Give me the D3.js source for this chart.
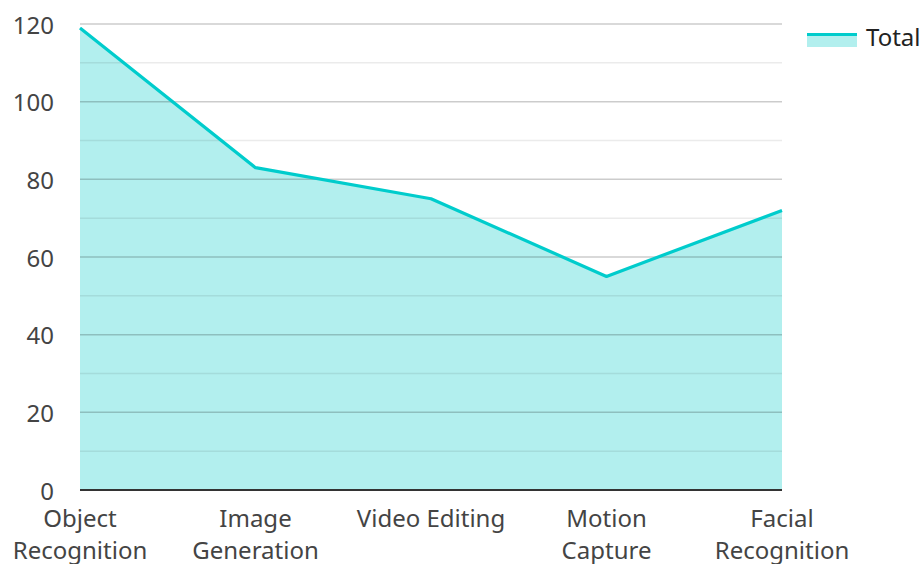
<!DOCTYPE html>
<html>
<head>
<meta charset="utf-8">
<script src="https://cdn.jsdelivr.net/npm/d3@7"></script>
<style>
  html,body{margin:0;padding:0;background:#fff;}
  svg text{font-family:"Noto Sans",sans-serif;fill:#444;}
</style>
</head>
<body>
<svg id="chart" width="924" height="564"></svg>
<script>
'use strict';
// values
const categories=[['Object','Recognition'],['Image','Generation'],['Video Editing'],['Motion','Capture'],['Facial','Recognition']];
const totals=[119,83,75,55,72];
const yTicks=[0,20,40,60,80,100,120];
const yMinor=[10,30,50,70,90,110];

const W=924,H=564, m={top:24,right:142,bottom:74,left:80};
const w=W-m.left-m.right, h=H-m.top-m.bottom;
const LINE='#00cccc', FILL='#b2efee';

const svg=d3.select('#chart');
const g=svg.append('g').attr('transform',`translate(${m.left},${m.top})`);

const keys=categories.map(c=>c.join(' '));
const x=d3.scalePoint().domain(keys).range([0,w]).padding(0);
const y=d3.scaleLinear().domain([0,120]).range([h,0]);

// area + line
const pts=totals.map((v,i)=>({k:keys[i],v}));
g.append('path').datum(pts)
  .attr('fill',FILL)
  .attr('d',d3.area().x(d=>x(d.k)).y0(y(0)).y1(d=>y(d.v)));

// grid lines over the fill (translucent so they darken on the area)
g.selectAll('.minor').data(yMinor).join('line').attr('class','minor')
  .attr('x1',0).attr('x2',w).attr('y1',d=>y(d)).attr('y2',d=>y(d))
  .attr('stroke','rgba(0,0,0,0.08)').attr('stroke-width',1.5);
g.selectAll('.major').data(yTicks.filter(t=>t>0)).join('line').attr('class','major')
  .attr('x1',0).attr('x2',w).attr('y1',d=>y(d)).attr('y2',d=>y(d))
  .attr('stroke','rgba(0,0,0,0.2)').attr('stroke-width',1.5);

g.append('path').datum(pts)
  .attr('fill','none').attr('stroke',LINE).attr('stroke-width',3.2).attr('stroke-linejoin','round')
  .attr('d',d3.line().x(d=>x(d.k)).y(d=>y(d.v)));

// baseline
g.append('line').attr('x1',0).attr('x2',w).attr('y1',y(0)).attr('y2',y(0))
  .attr('stroke','#333').attr('stroke-width',2);

// y labels
g.selectAll('.ylab').data(yTicks).join('text').attr('class','ylab')
  .attr('x',-26).attr('y',d=>y(d)).attr('text-anchor','end')
  .attr('dominant-baseline','central').style('font-size','24px').text(d=>d);

// x labels (wrapped)
const xl=g.selectAll('.xlab').data(categories).join('text').attr('class','xlab')
  .attr('text-anchor','middle').style('font-size','24px')
  .attr('transform',(d,i)=>`translate(${x(keys[i])},${h+37})`);
xl.selectAll('tspan').data(d=>d).join('tspan')
  .attr('x',0).attr('dy',(d,i)=>i?32:0).text(d=>d);

// legend
const lg=svg.append('g').attr('transform','translate(807,33)');
lg.append('rect').attr('x',0).attr('y',0).attr('width',50).attr('height',14).attr('fill',FILL);
lg.append('rect').attr('x',0).attr('y',0).attr('width',50).attr('height',3).attr('fill',LINE);
lg.append('text').attr('x',59).attr('y',3).attr('dominant-baseline','central')
  .style('font-size','24px').style('fill','#222').text('Total');
</script>
</body>
</html>
